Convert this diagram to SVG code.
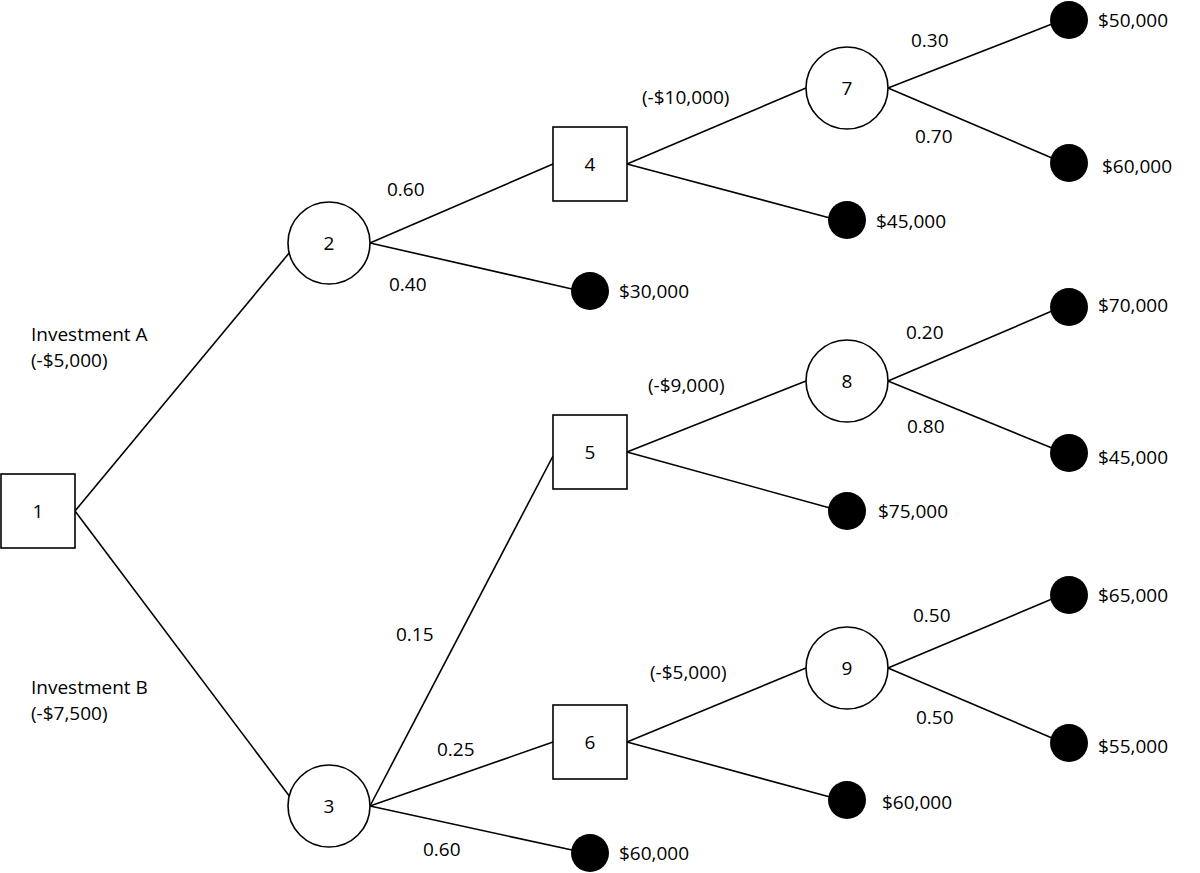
<svg xmlns="http://www.w3.org/2000/svg" width="1200" height="873" viewBox="0 0 1200 873">
<style>
.n{fill:#fff;stroke:#000;stroke-width:1.6}
.d{fill:#000}
.e line{stroke:#000;stroke-width:1.6}
text{font-family:"Open Sans","Liberation Sans",sans-serif;font-size:19px;fill:#000}
.c{text-anchor:middle;dominant-baseline:central}
</style>
<rect width="1200" height="873" fill="#fff"/>
<g class="e">
<line x1="75" y1="511" x2="290" y2="252"/>
<line x1="75" y1="511" x2="290" y2="797"/>
<line x1="370" y1="243" x2="553" y2="164"/>
<line x1="370" y1="243" x2="572" y2="289"/>
<line x1="627" y1="164" x2="806" y2="88"/>
<line x1="627" y1="164" x2="830" y2="218"/>
<line x1="888" y1="88" x2="1052" y2="24"/>
<line x1="888" y1="88" x2="1052" y2="158"/>
<line x1="370" y1="806" x2="553" y2="456"/>
<line x1="370" y1="806" x2="553" y2="742"/>
<line x1="370" y1="806" x2="572" y2="850"/>
<line x1="627" y1="452" x2="806" y2="381"/>
<line x1="627" y1="452" x2="830" y2="508"/>
<line x1="888" y1="381" x2="1052" y2="311"/>
<line x1="888" y1="381" x2="1052" y2="448"/>
<line x1="627" y1="742" x2="806" y2="668"/>
<line x1="627" y1="742" x2="830" y2="797"/>
<line x1="888" y1="668" x2="1052" y2="599"/>
<line x1="888" y1="668" x2="1052" y2="738"/>
</g>
<g id="n1"><rect class="n" x="1" y="474" width="74" height="74"/><text class="c" x="38" y="511">1</text></g>
<g id="n2"><circle class="n" cx="329" cy="243" r="41"/><text class="c" x="329" y="243">2</text></g>
<g id="n3"><circle class="n" cx="329" cy="806" r="41"/><text class="c" x="329" y="806">3</text></g>
<g id="n4"><rect class="n" x="553" y="127" width="74" height="74"/><text class="c" x="590" y="164">4</text></g>
<g id="n5"><rect class="n" x="553" y="415" width="74" height="74"/><text class="c" x="590" y="452">5</text></g>
<g id="n6"><rect class="n" x="553" y="705" width="74" height="74"/><text class="c" x="590" y="742">6</text></g>
<g id="n7"><circle class="n" cx="847" cy="88" r="41"/><text class="c" x="847" y="88">7</text></g>
<g id="n8"><circle class="n" cx="847" cy="381" r="41"/><text class="c" x="847" y="381">8</text></g>
<g id="n9"><circle class="n" cx="847" cy="668" r="41"/><text class="c" x="847" y="668">9</text></g>
<g id="t1"><circle class="d" cx="590" cy="291" r="19"/><text x="619" y="298">$30,000</text></g>
<g id="t2"><circle class="d" cx="847" cy="220" r="19"/><text x="876" y="228">$45,000</text></g>
<g id="t3"><circle class="d" cx="1069" cy="20" r="19"/><text x="1098" y="27">$50,000</text></g>
<g id="t4"><circle class="d" cx="1069" cy="163" r="19"/><text x="1102" y="173">$60,000</text></g>
<g id="t5"><circle class="d" cx="1069" cy="307" r="19"/><text x="1098" y="312">$70,000</text></g>
<g id="t6"><circle class="d" cx="1069" cy="453" r="19"/><text x="1098" y="464">$45,000</text></g>
<g id="t7"><circle class="d" cx="847" cy="511" r="19"/><text x="878" y="518">$75,000</text></g>
<g id="t8"><circle class="d" cx="1069" cy="595" r="19"/><text x="1098" y="602">$65,000</text></g>
<g id="t9"><circle class="d" cx="1069" cy="743" r="19"/><text x="1098" y="753">$55,000</text></g>
<g id="t10"><circle class="d" cx="847" cy="800" r="19"/><text x="882" y="809">$60,000</text></g>
<g id="t11"><circle class="d" cx="590" cy="853" r="19"/><text x="619" y="860">$60,000</text></g>
<g id="labels">
<text x="31" y="341">Investment A</text>
<text x="31" y="343" dy="0"> </text>
<text x="31" y="367" font-size="18">(-$5,000)</text>
<text x="31" y="694">Investment B</text>
<text x="31" y="720" font-size="18">(-$7,500)</text>
<text x="387" y="196">0.60</text>
<text x="389" y="291">0.40</text>
<text x="642" y="104">(-$10,000)</text>
<text x="911" y="47">0.30</text>
<text x="915" y="143">0.70</text>
<text x="648" y="392">(-$9,000)</text>
<text x="906" y="339">0.20</text>
<text x="907" y="433">0.80</text>
<text x="396" y="641">0.15</text>
<text x="437" y="756">0.25</text>
<text x="423" y="856">0.60</text>
<text x="650" y="679">(-$5,000)</text>
<text x="913" y="622">0.50</text>
<text x="916" y="724">0.50</text>
</g>
</svg>
